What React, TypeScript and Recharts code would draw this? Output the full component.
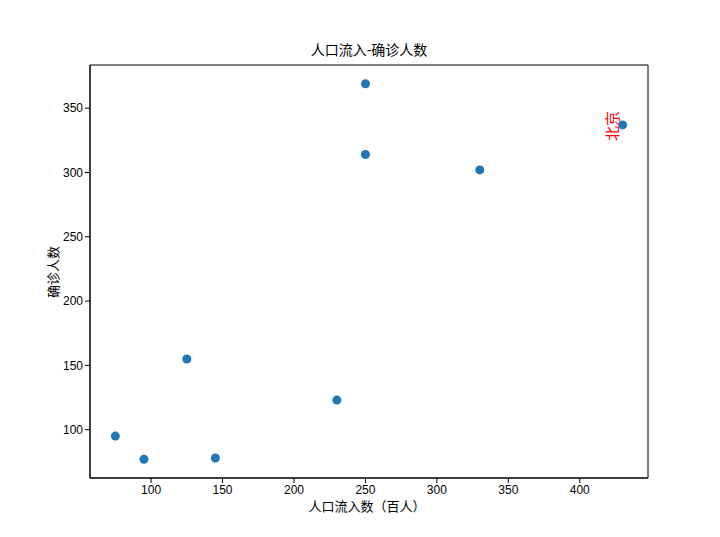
import React from "react";
import {
  ScatterChart,
  Scatter,
  XAxis,
  YAxis,
  ZAxis,
  LabelList,
  ReferenceArea,
} from "recharts";

const inflow = [75, 95, 125, 145, 230, 250, 250, 330, 430];
const confirmed = [95, 77, 155, 78, 123, 369, 314, 302, 337];
const cityNames = ["", "", "", "", "", "", "", "", "北京"];
const xTicks = [100, 150, 200, 250, 300, 350, 400];
const yTicks = [100, 150, 200, 250, 300, 350];

const points = inflow.map((x, i) => ({ x, y: confirmed[i], name: cityNames[i] }));

// matplotlib-style 5% margins around the data
const pad = (vals: number[]): [number, number] => {
  const lo = Math.min(...vals);
  const hi = Math.max(...vals);
  const m = (hi - lo) * 0.05;
  return [lo - m, hi + m];
};
const xDomain = pad(inflow);
const yDomain = pad(confirmed);

const FONT = '"Liberation Sans", "Noto Sans CJK SC", sans-serif';
const tickStyle = { fill: "#000", fontSize: 12, fontFamily: FONT };

const CityLabel = (props: any) => {
  const { x, y, width, height, value } = props;
  if (!value) return null;
  const cx = x + width / 2 - 10;
  const cy = y + height / 2 + 1;
  return (
    <text
      x={cx}
      y={cy}
      fill="red"
      fontSize={15}
      fontFamily={FONT}
      textAnchor="middle"
      dominantBaseline="central"
      transform={`rotate(-90, ${cx}, ${cy})`}
    >
      {value}
    </text>
  );
};

export default function App() {
  return (
    <div style={{ position: "absolute", left: 0, top: 0, background: "#fff" }}>
      <div style={{ position: "relative", width: 720, height: 537 }}>
        <div
          style={{
            position: "absolute",
            top: 40,
            left: 0,
            width: 738,
            textAlign: "center",
            fontFamily: FONT,
            fontSize: 14,
            color: "#000",
            lineHeight: "20px",
          }}
        >
          人口流入-确诊人数
        </div>
        <div
          style={{
            position: "absolute",
            top: 498,
            left: 0,
            width: 734,
            textAlign: "center",
            fontFamily: FONT,
            fontSize: 13,
            color: "#000",
            lineHeight: "18px",
          }}
        >
          人口流入数（百人）
        </div>
        <div
          style={{
            position: "absolute",
            left: 54,
            top: 272,
            transform: "translate(-50%, -50%) rotate(-90deg)",
            fontFamily: FONT,
            fontSize: 13,
            color: "#000",
            whiteSpace: "nowrap",
            lineHeight: "18px",
          }}
        >
          确诊人数
        </div>
        <ScatterChart
          width={720}
          height={537}
          margin={{ top: 65, right: 72, bottom: 0, left: 0 }}
        >
          <XAxis
            type="number"
            dataKey="x"
            domain={xDomain}
            ticks={xTicks}
            allowDataOverflow
            height={59}
            tickSize={5}
            tickLine={{ stroke: "#000" }}
            axisLine={{ stroke: "#000" }}
            tick={tickStyle}
          />
          <YAxis
            type="number"
            dataKey="y"
            domain={yDomain}
            ticks={yTicks}
            allowDataOverflow
            width={90}
            tickSize={5}
            tickLine={{ stroke: "#000" }}
            axisLine={{ stroke: "#000" }}
            tick={tickStyle}
          />
          <ZAxis range={[57, 57]} />
          <ReferenceArea
            x1={xDomain[0]}
            x2={xDomain[1]}
            y1={yDomain[0]}
            y2={yDomain[1]}
            fill="none"
            fillOpacity={0}
            stroke="#000"
            strokeOpacity={1}
            ifOverflow="visible"
          />
          <Scatter data={points} fill="#1f77b4" isAnimationActive={false}>
            <LabelList dataKey="name" content={<CityLabel />} />
          </Scatter>
        </ScatterChart>
      </div>
    </div>
  );
}
